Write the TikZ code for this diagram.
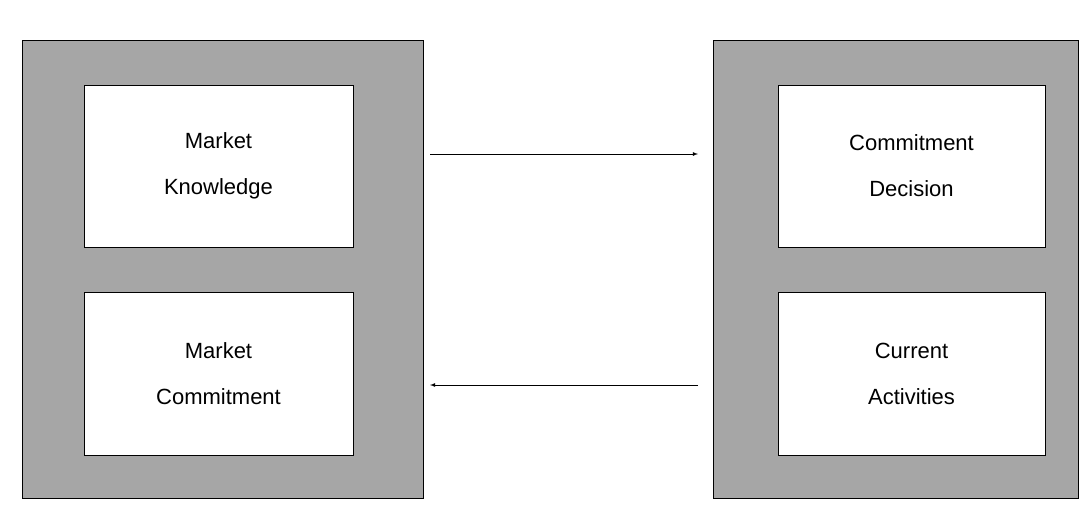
\documentclass[tikz,border=0pt]{standalone}
\usepackage{fontspec}
\setmainfont{Liberation Sans}
\begin{document}
\begin{tikzpicture}[x=1pt,y=-1pt,
  outer/.style={draw=black,fill=gray!70,line width=1pt},
  inner/.style={draw=black,fill=white,line width=1pt,align=center,font=\fontsize{22}{46}\selectfont},
  arr/.style={-latex,line width=0.8pt}]
\useasboundingbox (0,0) rectangle (1088,507);
\draw[outer] (22,40) rectangle (423,498);
\draw[outer] (713,40) rectangle (1078,498);
\node[inner,minimum width=269pt,minimum height=162pt] (mk) at (218.5,166) {Market\\Knowledge};
\node[inner,minimum width=269pt,minimum height=163pt] (mc) at (218.5,373.5) {Market\\Commitment};
\node[inner,minimum width=267pt,minimum height=162pt] (cd) at (911.5,166) {Commitment\\Decision};
\node[inner,minimum width=267pt,minimum height=163pt] (ca) at (911.5,373.5) {Current\\Activities};
\coordinate (a1) at (430,154);
\coordinate (a2) at (698,154);
\coordinate (b1) at (698,385);
\coordinate (b2) at (430,385);
\draw[arr] (a1) -- (a2);
\draw[arr] (b1) -- (b2);
\end{tikzpicture}
\end{document}
